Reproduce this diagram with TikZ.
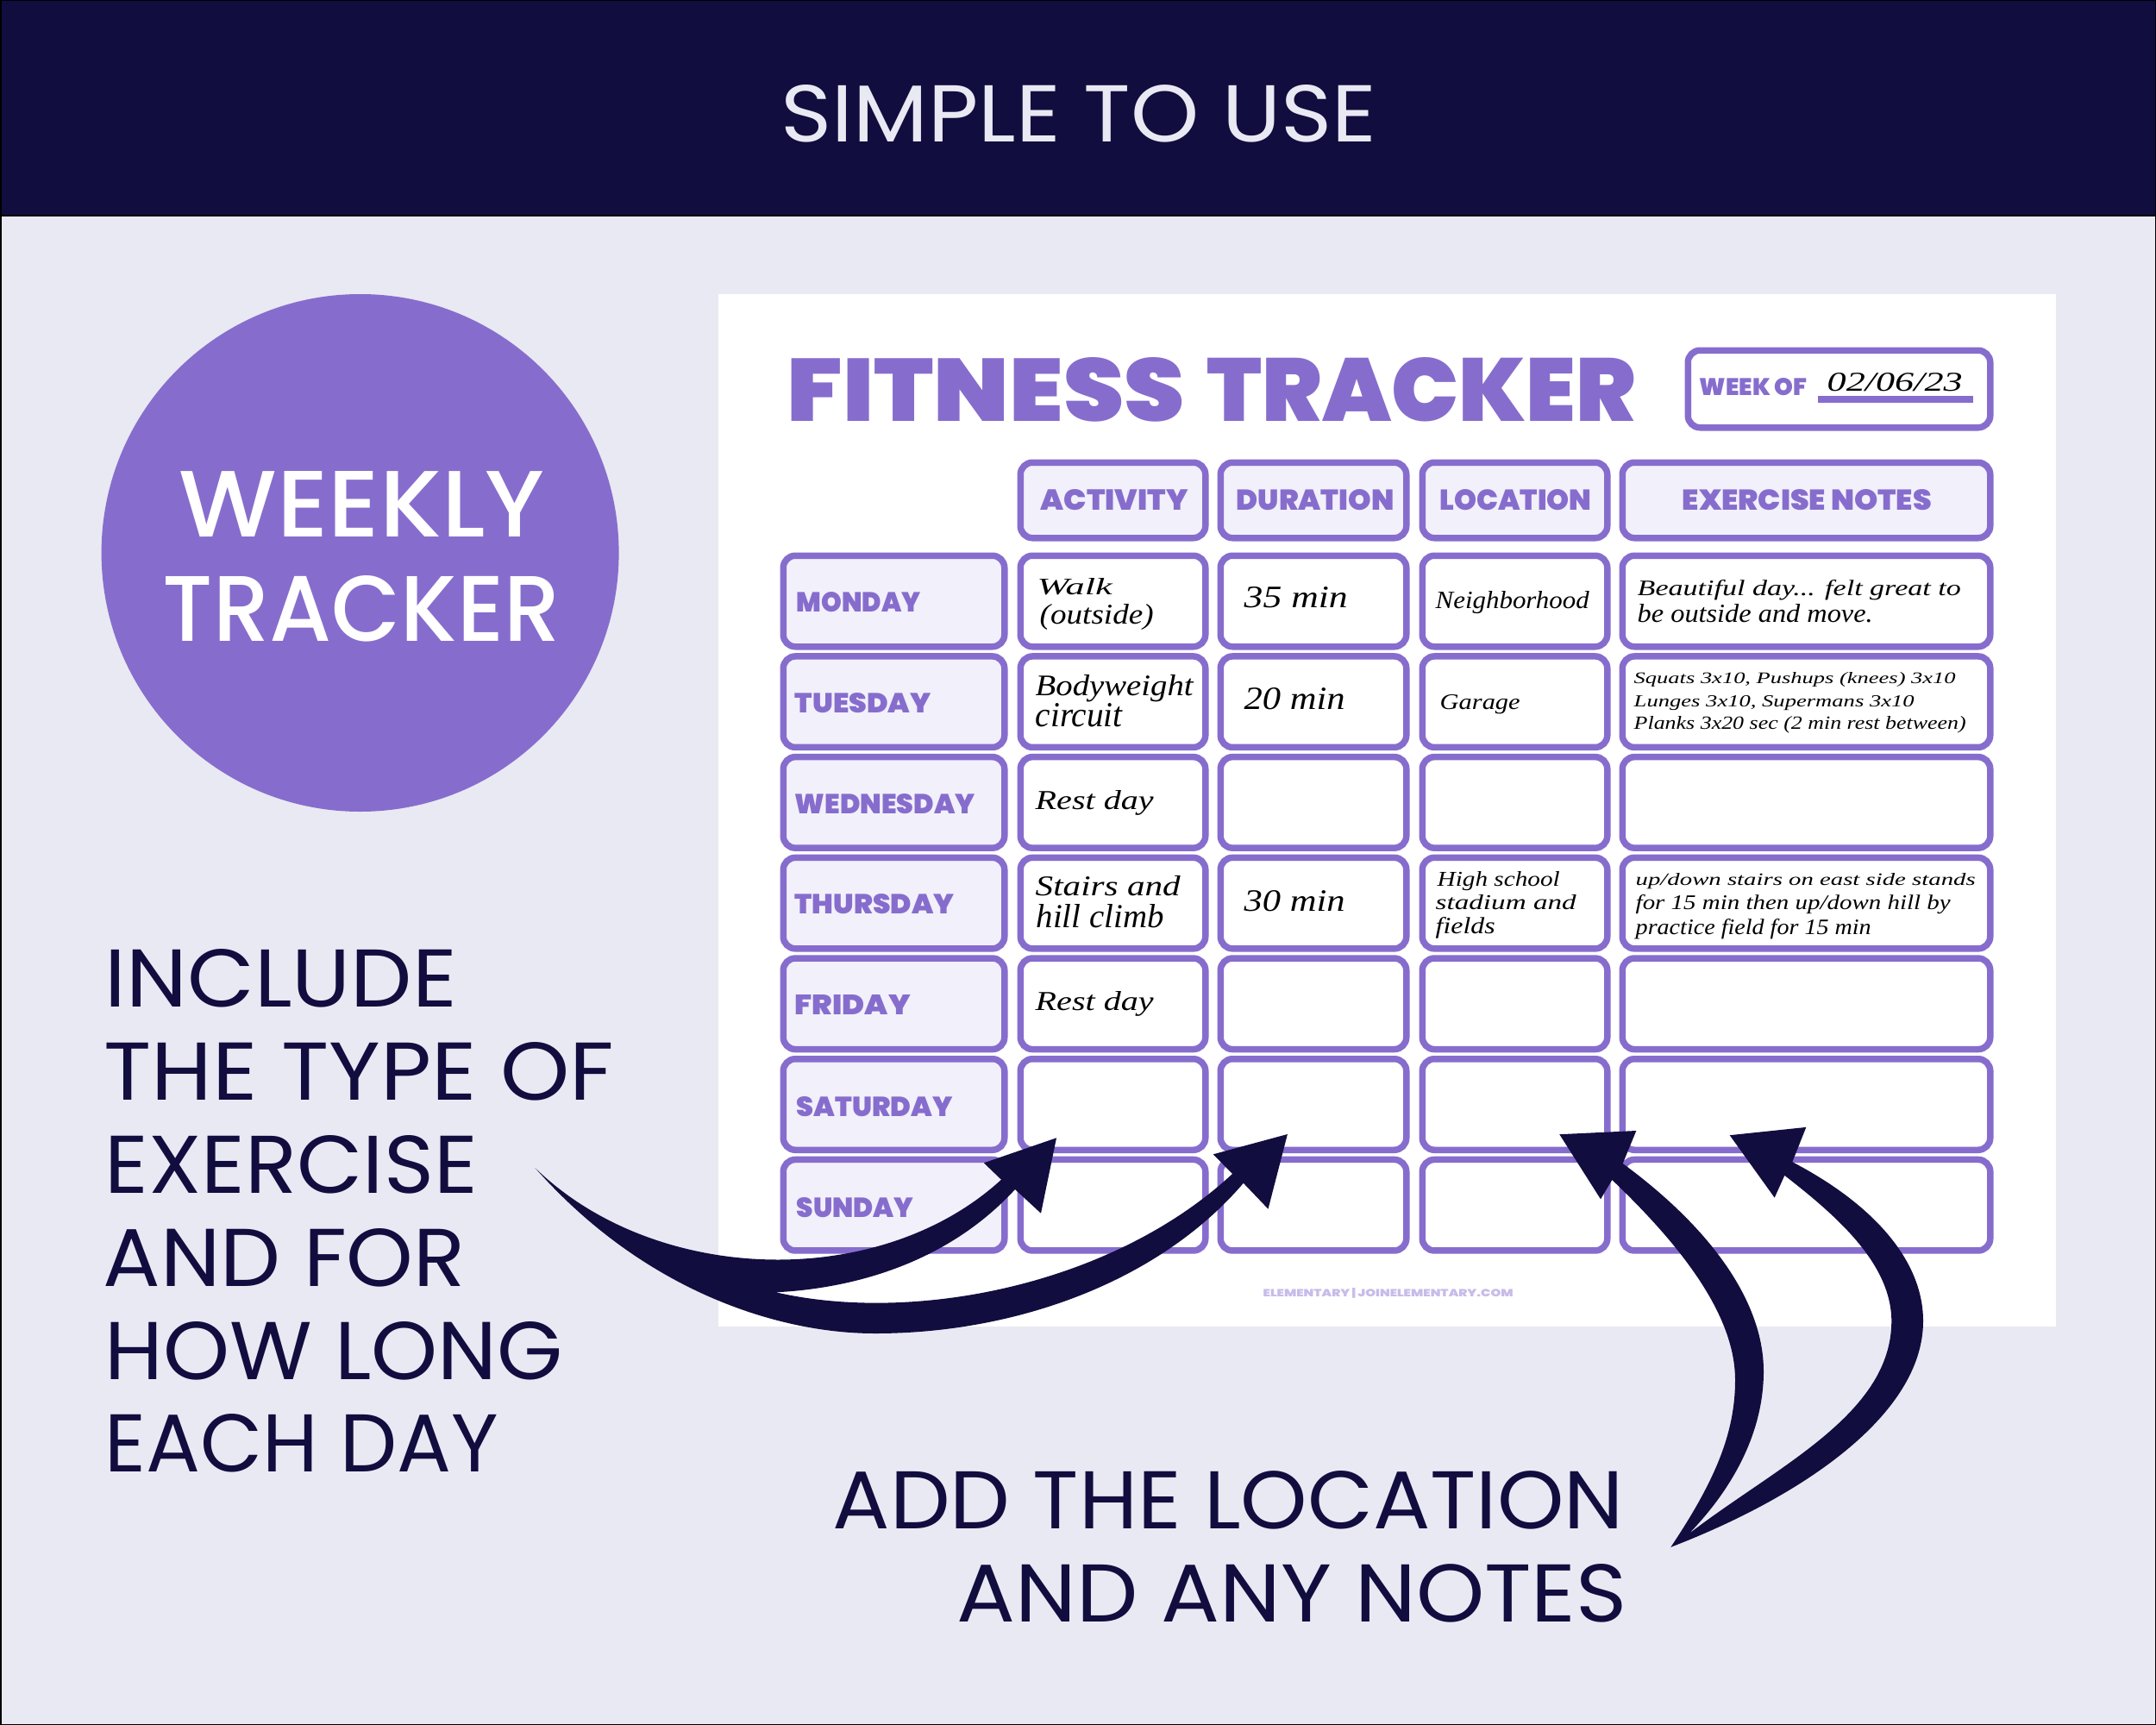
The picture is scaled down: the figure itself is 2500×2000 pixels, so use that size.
\documentclass[tikz,border=0pt]{standalone}
\usepackage{fontspec}
\usepackage{graphicx}
\newfontfamily\thinf{Poppins}
\newfontfamily\medf{Poppins Medium}
\newfontfamily\blockf{Poppins Black}
\newfontfamily\handf{Liberation Serif}
\newlength\pxu \setlength\pxu{0.01cm}
\definecolor{navy}{HTML}{120D3F}
\definecolor{paleback}{HTML}{E9E9F3}
\definecolor{violet}{HTML}{866DCD}
\definecolor{paleviolet}{HTML}{F2F0FA}
\definecolor{footviolet}{HTML}{C8BCEA}
\newcommand\tx[7]{\node[anchor=base west,inner sep=0pt,#1] (#2) at (#3,#4) {\resizebox{#5\pxu}{#6\pxu}{#7}};}
\newcommand\cellbox[5]{\node[cellstyle,minimum width=(#4-#3-6.5)*\pxu,minimum height=105.5*\pxu,#1] (#2) at ({(#3+#4)/2},#5) {};}
\tikzset{
 cellstyle/.style={draw=violet,line width=7.5*\pxu,rounded corners=14*\pxu,rectangle,inner sep=0pt},
 plaincell/.style={fill=white},
 palecell/.style={fill=paleviolet},
 big/.style={font=\thinf,text=navy},
 block/.style={font=\blockf,text=violet},
 hand/.style={font=\handf\itshape,text=black},
}
\begin{document}
\begin{tikzpicture}[x=.01cm,y=-.01cm]
\useasboundingbox (0,0) rectangle (2500,2000);
\fill[paleback] (0,0) rectangle (2500,2000);
\fill[navy] (0,0) rectangle (2500,250);
\draw[black,line width=2*\pxu] (0,250) -- (2500,250);
\draw[black,line width=3*\pxu] (0,0) rectangle (2500,2000);
\tx{font=\thinf,text=paleback}{banner}{905}{165}{690}{66}{SIMPLE TO USE}
\node[circle,fill=violet,minimum size=600*\pxu,inner sep=0pt] (disc) at (417.6,641) {};
\tx{font=\medf,text=white}{w1}{207}{622}{424}{76}{WEEKLY}
\tx{font=\medf,text=white}{w2}{188}{743}{461}{76}{TRACKER}
\tx{big}{l1}{121}{1167}{408}{67}{INCLUDE}
\tx{big}{l2}{120}{1275}{591}{67}{THE TYPE OF}
\tx{big}{l3}{121}{1383}{432}{67}{EXERCISE}
\tx{big}{l4}{119}{1491}{420}{67}{AND FOR}
\tx{big}{l5}{121}{1599}{531}{67}{HOW LONG}
\tx{big}{l6}{121}{1706.5}{456}{67}{EACH DAY}
\tx{big}{b1}{965}{1772}{917}{67}{ADD THE LOCATION}
\tx{big}{b2}{1109}{1880}{777}{67}{AND ANY NOTES}
\fill[white] (833,341) rectangle (2384,1538);
% title
\tx{block}{t1}{912}{488}{461}{74}{FITNESS}
\tx{block}{t2}{1399}{488}{497}{74}{TRACKER}
\node[cellstyle,plaincell,minimum width=350.5*\pxu,minimum height=89.5*\pxu] (wk) at (2132.5,451) {};
\tx{block}{wk1}{1970}{458}{125}{20}{WEEK OF}
\tx{hand}{wk2}{2118}{453}{157}{21}{02/06/23}
\fill[violet] (2108,459) rectangle (2288,467);
% headers
\cellbox{palecell,minimum height=87.5*\pxu}{h1}{1180}{1401}{580}
\cellbox{palecell,minimum height=87.5*\pxu}{h2}{1412}{1634}{580}
\cellbox{palecell,minimum height=87.5*\pxu}{h3}{1646}{1867}{580}
\cellbox{palecell,minimum height=87.5*\pxu}{h4}{1878}{2311}{580}
\tx{block}{ht1}{1206}{591}{171}{24}{ACTIVITY}
\tx{block}{ht2}{1433}{591}{183}{24}{DURATION}
\tx{block}{ht3}{1669}{591}{176}{24}{LOCATION}
\tx{block}{ht4}{1950}{591}{289}{24}{EXERCISE NOTES}
% grid
\foreach \i in {0,...,6}{
  \pgfmathsetmacro\cy{697+116.7*\i}
  \cellbox{palecell}{d\i}{905}{1168}{\cy}
  \cellbox{plaincell}{a\i}{1180}{1401}{\cy}
  \cellbox{plaincell}{m\i}{1412}{1634}{\cy}
  \cellbox{plaincell}{c\i}{1646}{1867}{\cy}
  \cellbox{plaincell}{n\i}{1878}{2311}{\cy}
}
\tx{block}{dn0}{923}{709}{144}{23}{MONDAY}
\tx{block}{dn1}{921}{826}{158}{23}{TUESDAY}
\tx{block}{dn2}{921}{943}{209}{23}{WEDNESDAY}
\tx{block}{dn3}{921}{1059}{185}{23}{THURSDAY}
\tx{block}{dn4}{921}{1176}{134}{23}{FRIDAY}
\tx{block}{dn5}{923}{1294}{181}{23}{SATURDAY}
\tx{block}{dn6}{923}{1411}{136}{23}{SUNDAY}
% handwriting
\tx{hand}{s1}{1202}{689}{87}{19}{Walk}
\tx{hand}{s2}{1205}{723}{132}{23}{(outside)}
\tx{hand}{s3}{1442}{704}{120}{24}{35 min}
\tx{hand}{s4}{1664}{705}{178}{20}{Neighborhood}
\tx{hand}{s5}{1898}{690}{375}{18}{Beautiful day... felt great to}
\tx{hand}{s6}{1898}{721}{273}{21}{be outside and move.}
\tx{hand}{s7}{1200}{806}{183}{24}{Bodyweight}
\tx{hand}{s8}{1200}{842}{101}{27}{circuit}
\tx{hand}{s9}{1442}{822}{117}{25}{20 min}
\tx{hand}{s10}{1669}{822}{93}{17}{Garage}
\tx{hand}{s11}{1894}{792}{373}{13}{Squats 3x10, Pushups (knees) 3x10}
\tx{hand}{s12}{1894}{819}{325}{13}{Lunges 3x10, Supermans 3x10}
\tx{hand}{s13}{1894}{845}{385}{15}{Planks 3x20 sec (2 min rest between)}
\tx{hand}{s14}{1200}{938}{137}{22}{Rest day}
\tx{hand}{s15}{1200}{1038}{168}{23}{Stairs and}
\tx{hand}{s16}{1201}{1075}{148}{27}{hill climb}
\tx{hand}{s17}{1442}{1056}{117}{24}{30 min}
\tx{hand}{s18}{1666}{1027}{142}{17}{High school}
\tx{hand}{s19}{1664}{1054}{163}{17}{stadium and}
\tx{hand}{s20}{1664}{1082}{69}{19}{fields}
\tx{hand}{s21}{1896}{1026}{394}{14}{up/down stairs on east side stands}
\tx{hand}{s22}{1896}{1054}{365}{17}{for 15 min then up/down hill by}
\tx{hand}{s23}{1896}{1083}{273}{18}{practice field for 15 min}
\tx{hand}{s24}{1200}{1171}{137}{22}{Rest day}
\tx{font=\blockf,text=footviolet}{foot}{1464}{1503}{290}{10}{ELEMENTARY | JOINELEMENTARY.COM}
% arrows
\fill[navy] (620.4,1354) .. controls (760,1490) and (1020,1497) .. (1161,1367.7)
 -- (1140.8,1348.3) -- (1225,1319.3) -- (1207,1406.7) -- (1177,1379)
 .. controls (1096,1467) and (985,1494) .. (899.7,1498.3)
 .. controls (1060,1535) and (1290,1490) .. (1429,1361)
 -- (1406.8,1338.3) -- (1492.9,1315) -- (1470.5,1401.7) -- (1441.8,1371.7)
 .. controls (1345,1485) and (1180,1546) .. (1014.5,1546)
 .. controls (900,1546) and (745,1495) .. (620.4,1354) -- cycle;
\fill[navy] (1937.3,1793.8) .. controls (1990,1715) and (2012,1660) .. (2012,1600)
 .. controls (2012,1525) and (1950,1445) .. (1869.3,1368)
 -- (1856,1390.3) -- (1808.3,1315.2) -- (1897.3,1311) -- (1881.7,1349)
 .. controls (1985,1425) and (2045,1510) .. (2045,1590)
 .. controls (2045,1660) and (2010,1725) .. (1958.3,1778.3)
 .. controls (2060,1700) and (2193,1640) .. (2193.3,1531.7)
 .. controls (2193,1465) and (2130,1410) .. (2069.3,1362.8)
 -- (2057.7,1388.6) -- (2005.7,1316.2) -- (2094.3,1306.9) -- (2078.3,1347.2)
 .. controls (2170,1395) and (2230,1460) .. (2230,1531.7)
 .. controls (2230,1640) and (2090,1735) .. (1937.3,1793.8) -- cycle;
\end{tikzpicture}
\end{document}
